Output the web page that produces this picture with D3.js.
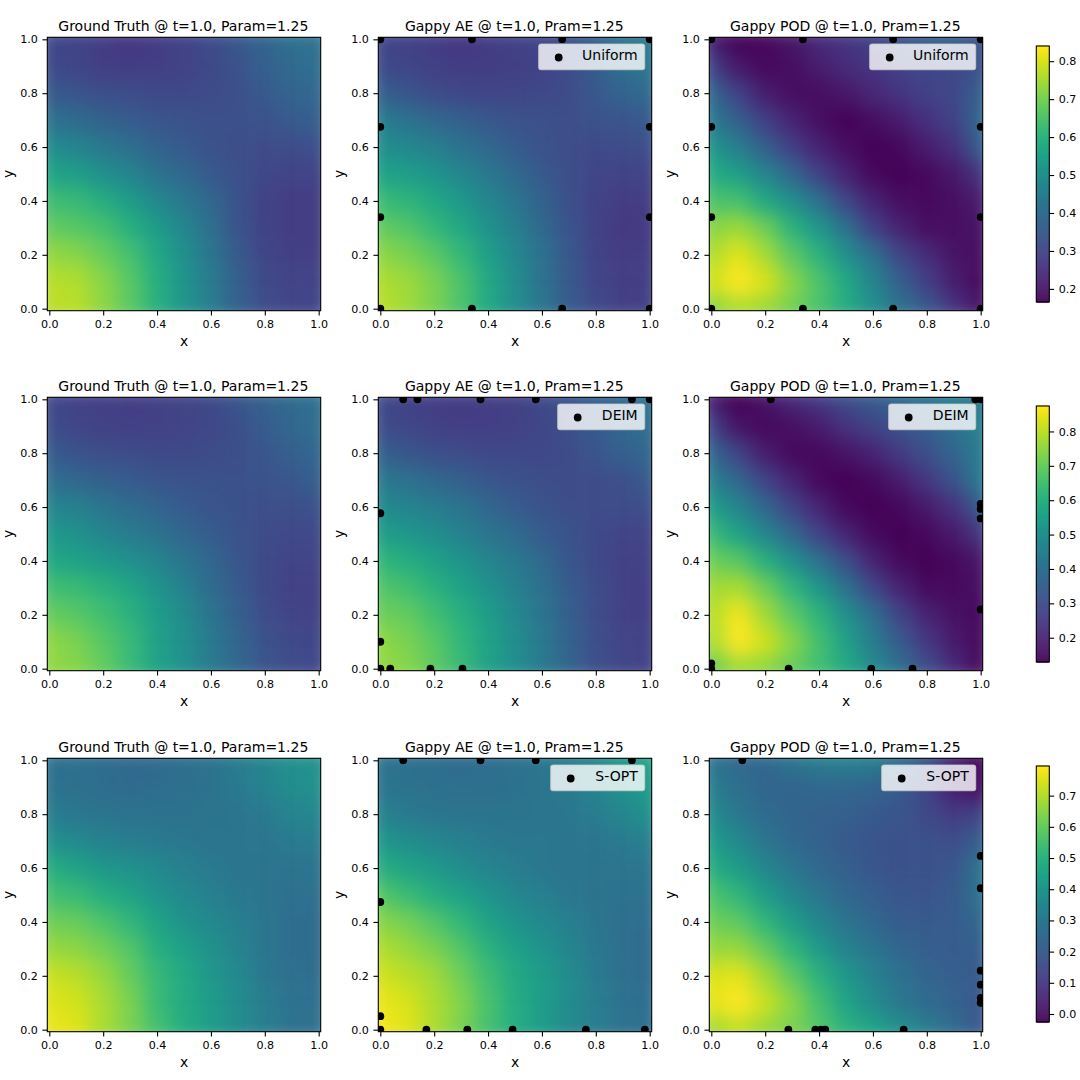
<!DOCTYPE html>
<html>
<head>
<meta charset="utf-8">
<script src="https://cdn.jsdelivr.net/npm/d3@7"></script>
<style>
html, body { margin: 0; padding: 0; background: #fff; }
svg { display: block; }
text { font-family: "DejaVu Sans", sans-serif; fill: #000; }
</style>
</head>
<body>
<svg id="fig" width="1080" height="1080"></svg>
<script>
// grid positions of the value tables, rows go from y=1.0 down to y=0.0
var gridX = [0, 0.1, 0.2, 0.3, 0.4, 0.5, 0.6, 0.7, 0.8, 0.9, 1.0];
var gridY = [1.0, 0.9, 0.8, 0.7, 0.6, 0.5, 0.4, 0.3, 0.2, 0.1, 0];
var axisTicks = [0, 0.2, 0.4, 0.6, 0.8, 1.0];

var truthUniform = [
  [.31,.30,.285,.27,.285,.30,.32,.35,.38,.415,.42],
  [.315,.305,.29,.285,.29,.30,.315,.335,.37,.395,.41],
  [.355,.34,.325,.32,.315,.315,.32,.33,.355,.38,.39],
  [.42,.40,.375,.36,.345,.335,.33,.33,.335,.355,.37],
  [.49,.47,.435,.41,.375,.355,.335,.325,.32,.32,.33],
  [.56,.54,.50,.47,.42,.39,.355,.33,.31,.30,.30],
  [.63,.62,.585,.535,.48,.435,.39,.335,.30,.285,.285],
  [.68,.665,.64,.59,.535,.476,.41,.34,.30,.285,.285],
  [.73,.72,.685,.64,.57,.50,.43,.355,.305,.29,.29],
  [.77,.76,.72,.665,.585,.515,.44,.37,.315,.30,.30],
  [.77,.77,.725,.67,.59,.52,.45,.37,.32,.305,.305]
];
var aeUniform = [
  [.31,.295,.285,.27,.285,.30,.305,.33,.37,.415,.435],
  [.315,.305,.29,.285,.285,.29,.30,.32,.36,.41,.43],
  [.37,.345,.32,.31,.305,.305,.315,.32,.35,.38,.395],
  [.45,.42,.39,.37,.35,.335,.33,.325,.335,.34,.355],
  [.50,.48,.455,.42,.39,.36,.335,.325,.315,.32,.325],
  [.555,.54,.515,.475,.435,.395,.355,.325,.305,.30,.30],
  [.625,.605,.57,.525,.475,.43,.375,.33,.30,.285,.285],
  [.68,.66,.615,.57,.51,.455,.395,.34,.30,.275,.28],
  [.725,.705,.67,.615,.545,.48,.415,.35,.30,.285,.285],
  [.76,.74,.705,.65,.57,.495,.42,.355,.305,.285,.29],
  [.77,.745,.705,.65,.57,.50,.43,.36,.315,.29,.295]
];
var podUniform = [
  [.22,.17,.18,.21,.25,.27,.30,.34,.37,.37,.33],
  [.30,.21,.18,.19,.22,.25,.27,.30,.31,.31,.33],
  [.39,.30,.22,.19,.19,.21,.24,.27,.30,.31,.37],
  [.44,.37,.29,.23,.19,.17,.19,.22,.26,.30,.39],
  [.52,.45,.37,.29,.23,.19,.17,.18,.22,.26,.37],
  [.58,.54,.47,.39,.30,.23,.18,.17,.18,.21,.27],
  [.65,.64,.57,.50,.42,.31,.23,.19,.18,.19,.22],
  [.72,.74,.69,.60,.52,.42,.30,.23,.19,.19,.20],
  [.76,.81,.75,.67,.60,.50,.42,.31,.25,.20,.19],
  [.79,.84,.80,.72,.65,.57,.47,.37,.29,.22,.18],
  [.72,.76,.74,.70,.65,.58,.50,.42,.35,.27,.20]
];
var truthDeim = [
  [.29,.275,.27,.265,.275,.28,.29,.325,.36,.385,.40],
  [.30,.285,.275,.27,.275,.28,.29,.31,.345,.375,.40],
  [.34,.32,.305,.30,.295,.295,.30,.31,.33,.355,.375],
  [.40,.375,.355,.34,.325,.32,.315,.315,.32,.33,.355],
  [.47,.45,.42,.39,.37,.34,.325,.315,.305,.305,.315],
  [.53,.51,.47,.44,.41,.375,.345,.32,.30,.29,.29],
  [.575,.56,.53,.50,.465,.42,.375,.33,.295,.28,.28],
  [.65,.635,.605,.57,.515,.455,.39,.34,.295,.275,.27],
  [.70,.68,.65,.605,.54,.485,.415,.355,.30,.28,.275],
  [.75,.725,.68,.63,.555,.50,.43,.37,.315,.29,.285],
  [.75,.74,.695,.635,.56,.50,.435,.375,.325,.30,.285]
];
var aeDeim = [
  [.29,.275,.265,.26,.265,.275,.29,.32,.355,.375,.415],
  [.30,.285,.275,.265,.265,.275,.285,.31,.34,.375,.40],
  [.355,.33,.31,.30,.29,.29,.29,.30,.325,.355,.375],
  [.43,.405,.375,.355,.33,.315,.305,.30,.30,.31,.34],
  [.485,.465,.44,.415,.375,.345,.32,.305,.30,.30,.305],
  [.545,.525,.495,.455,.42,.385,.345,.32,.295,.28,.28],
  [.62,.59,.555,.515,.47,.43,.385,.33,.295,.275,.27],
  [.675,.65,.605,.56,.51,.455,.405,.345,.30,.275,.265],
  [.71,.695,.65,.60,.54,.48,.415,.355,.30,.275,.265],
  [.75,.725,.68,.62,.555,.495,.43,.36,.305,.28,.275],
  [.755,.74,.69,.63,.555,.495,.43,.37,.31,.285,.275]
];
var podDeim = [
  [.19,.13,.17,.22,.26,.31,.34,.38,.41,.44,.41],
  [.28,.17,.145,.16,.19,.24,.28,.32,.35,.40,.46],
  [.375,.28,.19,.145,.145,.17,.20,.26,.31,.37,.44],
  [.45,.375,.28,.205,.145,.13,.15,.19,.25,.32,.44],
  [.54,.465,.375,.28,.205,.145,.13,.145,.18,.24,.35],
  [.635,.56,.47,.38,.28,.205,.15,.13,.145,.18,.25],
  [.71,.68,.60,.50,.41,.31,.205,.15,.13,.145,.175],
  [.77,.78,.71,.62,.52,.41,.295,.205,.15,.145,.16],
  [.79,.86,.77,.69,.61,.50,.40,.28,.20,.16,.145],
  [.78,.874,.82,.74,.65,.555,.44,.34,.25,.18,.145],
  [.70,.77,.75,.70,.65,.575,.49,.40,.31,.22,.15]
];
var truthSopt = [
  [.275,.27,.265,.255,.26,.27,.285,.32,.35,.385,.385],
  [.285,.275,.265,.26,.265,.27,.285,.31,.335,.37,.385],
  [.32,.30,.29,.285,.285,.285,.29,.295,.31,.345,.35],
  [.385,.36,.335,.32,.31,.30,.295,.295,.295,.31,.32],
  [.485,.45,.41,.385,.36,.33,.31,.295,.29,.285,.29],
  [.55,.53,.485,.45,.40,.36,.33,.305,.29,.275,.275],
  [.615,.605,.565,.515,.45,.39,.36,.33,.295,.265,.26],
  [.67,.655,.62,.575,.49,.44,.385,.345,.295,.265,.26],
  [.73,.71,.67,.605,.525,.47,.41,.36,.30,.27,.265],
  [.755,.74,.69,.63,.53,.47,.425,.37,.32,.28,.27],
  [.77,.755,.69,.63,.55,.48,.425,.37,.32,.28,.27]
];
var aeSopt = [
  [.28,.275,.265,.26,.265,.28,.295,.32,.35,.415,.45],
  [.295,.285,.275,.27,.27,.28,.295,.31,.345,.385,.425],
  [.335,.31,.295,.29,.29,.29,.295,.30,.32,.35,.385],
  [.41,.375,.35,.33,.31,.30,.30,.295,.295,.31,.33],
  [.485,.45,.415,.375,.345,.32,.30,.295,.29,.29,.295],
  [.58,.53,.485,.44,.40,.35,.33,.30,.285,.28,.28],
  [.65,.62,.575,.515,.45,.40,.36,.33,.295,.27,.265],
  [.70,.67,.63,.575,.50,.44,.40,.35,.30,.27,.26],
  [.74,.71,.68,.615,.54,.47,.425,.37,.31,.27,.26],
  [.77,.745,.695,.64,.555,.48,.425,.37,.32,.28,.265],
  [.78,.755,.695,.63,.55,.48,.425,.36,.32,.28,.265]
];
var podSopt = [
  [.29,.25,.25,.29,.32,.34,.32,.27,.19,.06,-.02],
  [.32,.27,.24,.24,.25,.25,.24,.205,.14,.04,0],
  [.37,.30,.26,.24,.23,.22,.205,.19,.155,.115,.14],
  [.425,.36,.295,.25,.23,.205,.19,.18,.18,.17,.22],
  [.485,.425,.35,.295,.25,.22,.195,.18,.18,.195,.29],
  [.565,.51,.425,.35,.295,.245,.22,.195,.19,.205,.29],
  [.615,.59,.515,.425,.35,.295,.245,.21,.205,.21,.245],
  [.67,.67,.60,.51,.42,.335,.29,.245,.22,.21,.22],
  [.75,.76,.68,.59,.50,.41,.335,.28,.235,.22,.205],
  [.76,.795,.73,.65,.55,.45,.37,.30,.26,.23,.195],
  [.68,.72,.67,.63,.575,.50,.45,.385,.32,.26,.195]
];

// sensor locations
var uniformX = [0, .34, .675, 1, 0, 1, 0, 1, 0, .34, .675, 1];
var uniformY = [1, 1, 1, 1, .675, .675, .34, .34, 0, 0, 0, 0];
var deimAeX = [.085, .138, .372, .577, .934, 1, 0, 0, 0, .037, .186, .305];
var deimAeY = [1, 1, 1, 1, 1, 1, .577, .10, 0, 0, 0, 0];
var deimPodX = [.221, .98, 1, 1, 1, 1, 1, 0, 0, .287, .594, .747];
var deimPodY = [1, 1, 1, .612, .593, .558, .22, .02, 0, 0, 0, 0];
var soptAeX = [.085, .372, .577, .934, 0, 0, 0, .171, .323, .491, .763, .982];
var soptAeY = [1, 1, 1, 1, .474, .05, 0, 0, 0, 0, 0, 0];
var soptPodX = [.115, 1, 1, 1, 1, 1, 1, .286, .386, .407, .423, .714];
var soptPodY = [1, .645, .525, .219, .167, .118, .10, 0, 0, 0, 0, 0];

var colorbarTicks = [
  [.2, .3, .4, .5, .6, .7, .8],
  [.2, .3, .4, .5, .6, .7, .8],
  [0, .1, .2, .3, .4, .5, .6, .7]
];
var colorbarRange = [[.166, .84], [.13, .874], [-.025, .795]];

var rowNames = ["Uniform", "DEIM", "S-OPT"];
var legendWidth = [106, 87, 94];
var titles = ["Ground Truth @ t=1.0, Param=1.25", "Gappy AE @ t=1.0, Pram=1.25", "Gappy POD @ t=1.0, Pram=1.25"];
var fields = [
  [truthUniform, aeUniform, podUniform],
  [truthDeim, aeDeim, podDeim],
  [truthSopt, aeSopt, podSopt]
];
var sensors = [
  [null, [uniformX, uniformY], [uniformX, uniformY]],
  [null, [deimAeX, deimAeY], [deimPodX, deimPodY]],
  [null, [soptAeX, soptAeY], [soptPodX, soptPodY]]
];

var colLeft = [47.3, 378.3, 709.3];
var rowTop = [37.3, 397.3, 758.3];
var panelSize = 273.4;
var cbLeft = 1036.3, cbWidth = 13;
var cbTop = [46, 406, 766], cbHeight = 255.8;
var blur = 9.5;

var svg = d3.select("#fig");
var defs = svg.append("defs");

var x = d3.scaleLinear().domain([-0.0075, 1.0075]).range([0, panelSize]);
var y = d3.scaleLinear().domain([-0.0075, 1.0075]).range([panelSize, 0]);

// cell edges, half a grid step either side of the first/last value
var px0 = x(-0.05), px1 = x(1.05), py0 = y(1.05), py1 = y(-0.05);
var cw = (px1 - px0) / gridX.length;
var ch = (py1 - py0) / gridY.length;

defs.append("clipPath").attr("id", "panelClip")
  .append("rect").attr("width", panelSize).attr("height", panelSize);

var f = defs.append("filter").attr("id", "soften")
  .attr("filterUnits", "userSpaceOnUse")
  .attr("x", px0).attr("y", py0)
  .attr("width", px1 - px0).attr("height", py1 - py0)
  .attr("color-interpolation-filters", "sRGB");
f.append("feGaussianBlur").attr("stdDeviation", blur).attr("edgeMode", "duplicate");

function styleAxis(g) {
  g.selectAll("text").style("font-size", "11.1px");
  g.selectAll("line").attr("stroke", "#000").attr("stroke-width", 1.1);
  g.select(".domain").remove();
}

function drawPanel(row, col) {
  var color = d3.scaleSequential(d3.interpolateViridis).domain(colorbarRange[row]);
  var values = fields[row][col];
  var g = svg.append("g").attr("transform", "translate(" + colLeft[col] + "," + rowTop[row] + ")");

  var clipped = g.append("g").attr("clip-path", "url(#panelClip)");
  var cells = clipped.append("g").attr("filter", "url(#soften)");
  cells.selectAll("g").data(values).enter().append("g")
    .each(function(rowValues, i) {
      d3.select(this).selectAll("rect").data(rowValues).enter().append("rect")
        .attr("x", function(d, j) { return x(gridX[j]) - cw / 2; })
        .attr("y", y(gridY[i]) - ch / 2)
        .attr("width", cw + 0.5)
        .attr("height", ch + 0.5)
        .attr("fill", function(d) { return color(d); });
    });

  var pts = sensors[row][col];
  if (pts) {
    clipped.selectAll("circle").data(pts[0]).enter().append("circle")
      .attr("cx", function(d) { return x(d); })
      .attr("cy", function(d, i) { return y(pts[1][i]); })
      .attr("r", 3.9)
      .attr("fill", "#000");
  }

  g.append("g").attr("transform", "translate(0," + panelSize + ")")
    .call(d3.axisBottom(x).tickValues(axisTicks).tickFormat(d3.format(".1f")).tickSize(4.9).tickPadding(4.5))
    .call(styleAxis);
  g.append("g")
    .call(d3.axisLeft(y).tickValues(axisTicks).tickFormat(d3.format(".1f")).tickSize(4.9).tickPadding(4.5))
    .call(styleAxis);

  g.append("rect").attr("width", panelSize).attr("height", panelSize)
    .attr("fill", "none").attr("stroke", "#000").attr("stroke-width", 1.1);

  g.append("text").attr("x", panelSize / 2 - 0.7).attr("y", -6.5)
    .attr("text-anchor", "middle").style("font-size", "14px").text(titles[col]);
  g.append("text").attr("x", panelSize / 2).attr("y", panelSize + 35)
    .attr("text-anchor", "middle").style("font-size", "13.9px").text("x");
  g.append("text").attr("transform", "translate(-34.3," + (panelSize / 2) + ") rotate(-90)")
    .attr("text-anchor", "middle").style("font-size", "13.9px").text("y");

  if (pts) {
    var w = legendWidth[row];
    var lg = g.append("g").attr("transform", "translate(" + (panelSize - 7 - w) + ",6.7)");
    lg.append("rect").attr("width", w).attr("height", 25.7).attr("rx", 2.5)
      .attr("fill", "#fff").attr("fill-opacity", 0.8)
      .attr("stroke", "#ccc").attr("stroke-opacity", 0.8).attr("stroke-width", 1.1);
    lg.append("circle").attr("cx", 20).attr("cy", 13.5).attr("r", 3.9).attr("fill", "#000");
    lg.append("text").attr("x", w - 7).attr("y", 16.3).attr("text-anchor", "end")
      .style("font-size", "14px").text(rowNames[row]);
  }
}

function drawColorbar(row) {
  var range = colorbarRange[row];
  var color = d3.scaleSequential(d3.interpolateViridis).domain(range);
  var cy = d3.scaleLinear().domain(range).range([cbHeight, 0]);
  var g = svg.append("g").attr("transform", "translate(" + cbLeft + "," + cbTop[row] + ")");
  var steps = d3.range(256).map(function(i) { return range[0] + (range[1] - range[0]) * i / 255; });
  g.selectAll("rect").data(steps).enter().append("rect")
    .attr("x", 0)
    .attr("y", function(d) { return cy(d) - cbHeight / 255 / 2; })
    .attr("width", cbWidth)
    .attr("height", cbHeight / 255 + 0.5)
    .attr("fill", function(d) { return color(d); });
  g.append("rect").attr("width", cbWidth).attr("height", cbHeight)
    .attr("fill", "none").attr("stroke", "#000").attr("stroke-width", 1.1);
  g.append("g").attr("transform", "translate(" + cbWidth + ",0)")
    .call(d3.axisRight(cy).tickValues(colorbarTicks[row]).tickFormat(d3.format(".1f")).tickSize(4.9).tickPadding(4.5))
    .call(styleAxis);
}

for (var r = 0; r < 3; r++) {
  for (var c = 0; c < 3; c++) drawPanel(r, c);
  drawColorbar(r);
}
</script>
</body>
</html>
